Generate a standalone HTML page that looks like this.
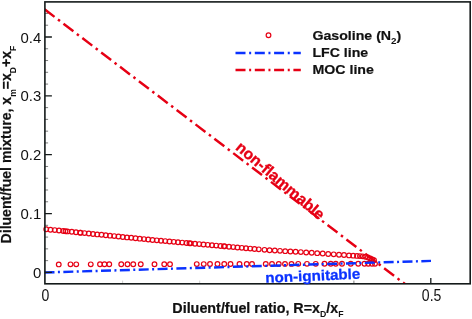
<!DOCTYPE html>
<html><head><meta charset="utf-8"><title>Flammability diagram</title>
<style>html,body{margin:0;padding:0;background:#fff}body{width:472px;height:319px;overflow:hidden}</style></head>
<body>
<svg width="472" height="319" viewBox="0 0 472 319" style="display:block">
<rect width="472" height="319" fill="#fff"/>
<path d="M122.60 283.8v-3.2M199.70 283.8v-3.2M276.80 283.8v-3.2" stroke="#bbb" stroke-width="0.7" fill="none"/>
<path d="M44.9 260.63h3.2M44.9 248.86h3.2M44.9 237.09h3.2M44.9 225.32h3.2M44.9 201.78h3.2M44.9 190.01h3.2M44.9 178.24h3.2M44.9 166.47h3.2M44.9 142.93h3.2M44.9 131.16h3.2M44.9 119.39h3.2M44.9 107.62h3.2M44.9 84.08h3.2M44.9 72.31h3.2M44.9 60.54h3.2M44.9 48.77h3.2M44.9 25.23h3.2M44.9 13.46h3.2M353.90 283.8v-3.2" stroke="#444" stroke-width="0.7" fill="none"/>
<clipPath id="c"><rect x="44.9" y="1.9" width="425.3" height="281.90000000000003"/></clipPath>
<g fill="none" stroke="#e60014" stroke-width="1.2"><circle cx="46.25" cy="229.25" r="2.35"/><circle cx="50.50" cy="229.68" r="2.35"/><circle cx="54.75" cy="230.11" r="2.35"/><circle cx="59.00" cy="230.53" r="2.35"/><circle cx="63.25" cy="230.96" r="2.35"/><circle cx="67.50" cy="231.39" r="2.35"/><circle cx="71.75" cy="231.82" r="2.35"/><circle cx="76.00" cy="232.25" r="2.35"/><circle cx="80.25" cy="232.67" r="2.35"/><circle cx="84.50" cy="233.10" r="2.35"/><circle cx="88.75" cy="233.53" r="2.35"/><circle cx="93.00" cy="233.96" r="2.35"/><circle cx="97.25" cy="234.39" r="2.35"/><circle cx="101.50" cy="234.81" r="2.35"/><circle cx="105.75" cy="235.24" r="2.35"/><circle cx="110.00" cy="235.67" r="2.35"/><circle cx="114.25" cy="236.10" r="2.35"/><circle cx="118.50" cy="236.52" r="2.35"/><circle cx="122.75" cy="236.95" r="2.35"/><circle cx="127.00" cy="237.38" r="2.35"/><circle cx="131.25" cy="237.81" r="2.35"/><circle cx="135.50" cy="238.24" r="2.35"/><circle cx="139.75" cy="238.66" r="2.35"/><circle cx="144.00" cy="239.09" r="2.35"/><circle cx="148.25" cy="239.52" r="2.35"/><circle cx="152.50" cy="239.95" r="2.35"/><circle cx="156.75" cy="240.36" r="2.35"/><circle cx="161.00" cy="240.73" r="2.35"/><circle cx="165.25" cy="241.11" r="2.35"/><circle cx="169.50" cy="241.48" r="2.35"/><circle cx="173.75" cy="241.86" r="2.35"/><circle cx="178.00" cy="242.23" r="2.35"/><circle cx="182.25" cy="242.60" r="2.35"/><circle cx="186.50" cy="242.98" r="2.35"/><circle cx="190.75" cy="243.35" r="2.35"/><circle cx="195.00" cy="243.73" r="2.35"/><circle cx="199.25" cy="244.10" r="2.35"/><circle cx="203.50" cy="244.48" r="2.35"/><circle cx="207.75" cy="244.85" r="2.35"/><circle cx="212.00" cy="245.22" r="2.35"/><circle cx="216.25" cy="245.60" r="2.35"/><circle cx="220.50" cy="245.97" r="2.35"/><circle cx="224.75" cy="246.35" r="2.35"/><circle cx="229.00" cy="246.72" r="2.35"/><circle cx="233.25" cy="247.09" r="2.35"/><circle cx="237.50" cy="247.47" r="2.35"/><circle cx="241.75" cy="247.84" r="2.35"/><circle cx="246.00" cy="248.22" r="2.35"/><circle cx="250.25" cy="248.59" r="2.35"/><circle cx="254.50" cy="248.97" r="2.35"/><circle cx="258.75" cy="249.34" r="2.35"/><circle cx="264.50" cy="249.85" r="2.35"/><circle cx="269.60" cy="250.21" r="2.35"/><circle cx="274.80" cy="250.52" r="2.35"/><circle cx="280.00" cy="250.84" r="2.35"/><circle cx="285.20" cy="251.16" r="2.35"/><circle cx="290.40" cy="251.48" r="2.35"/><circle cx="295.60" cy="251.80" r="2.35"/><circle cx="300.80" cy="252.11" r="2.35"/><circle cx="306.20" cy="252.45" r="2.35"/><circle cx="311.70" cy="252.78" r="2.35"/><circle cx="317.20" cy="253.17" r="2.35"/><circle cx="322.70" cy="253.57" r="2.35"/><circle cx="328.20" cy="253.97" r="2.35"/><circle cx="333.70" cy="254.36" r="2.35"/><circle cx="339.00" cy="254.73" r="2.35"/><circle cx="344.00" cy="255.06" r="2.35"/><circle cx="349.00" cy="255.39" r="2.35"/><circle cx="353.20" cy="255.67" r="2.35"/><circle cx="357.00" cy="255.92" r="2.35"/><circle cx="360.00" cy="256.12" r="2.35"/><circle cx="362.70" cy="256.36" r="2.35"/><circle cx="365.40" cy="256.80" r="2.35"/><circle cx="368.00" cy="257.43" r="2.35"/><circle cx="370.30" cy="258.41" r="2.35"/><circle cx="372.30" cy="259.45" r="2.35"/><circle cx="374.00" cy="260.20" r="2.35"/><circle cx="65.50" cy="231.19" r="2.35"/><circle cx="80.50" cy="232.70" r="2.35"/><circle cx="189.50" cy="243.24" r="2.35"/><circle cx="224.00" cy="246.28" r="2.35"/><circle cx="58.75" cy="264.40" r="2.35"/><circle cx="70.50" cy="264.37" r="2.35"/><circle cx="76.25" cy="264.36" r="2.35"/><circle cx="90.75" cy="264.33" r="2.35"/><circle cx="100.00" cy="264.31" r="2.35"/><circle cx="104.50" cy="264.30" r="2.35"/><circle cx="109.25" cy="264.29" r="2.35"/><circle cx="121.25" cy="264.26" r="2.35"/><circle cx="127.50" cy="264.25" r="2.35"/><circle cx="133.25" cy="264.24" r="2.35"/><circle cx="140.75" cy="264.22" r="2.35"/><circle cx="154.50" cy="264.19" r="2.35"/><circle cx="164.25" cy="264.17" r="2.35"/><circle cx="170.00" cy="264.15" r="2.35"/><circle cx="196.75" cy="264.10" r="2.35"/><circle cx="203.75" cy="264.08" r="2.35"/><circle cx="210.00" cy="264.07" r="2.35"/><circle cx="217.50" cy="264.05" r="2.35"/><circle cx="224.25" cy="264.04" r="2.35"/><circle cx="230.50" cy="264.02" r="2.35"/><circle cx="239.50" cy="264.00" r="2.35"/><circle cx="246.75" cy="263.99" r="2.35"/><circle cx="252.00" cy="263.98" r="2.35"/><circle cx="265.75" cy="263.95" r="2.35"/><circle cx="272.00" cy="263.93" r="2.35"/><circle cx="278.75" cy="263.92" r="2.35"/><circle cx="285.00" cy="263.90" r="2.35"/><circle cx="291.50" cy="263.89" r="2.35"/><circle cx="298.25" cy="263.87" r="2.35"/><circle cx="307.00" cy="263.86" r="2.35"/><circle cx="315.75" cy="263.84" r="2.35"/><circle cx="324.50" cy="263.82" r="2.35"/><circle cx="330.75" cy="263.80" r="2.35"/><circle cx="335.75" cy="263.79" r="2.35"/><circle cx="342.00" cy="263.78" r="2.35"/><circle cx="350.75" cy="263.76" r="2.35"/><circle cx="358.25" cy="263.74" r="2.35"/><circle cx="364.50" cy="263.73" r="2.35"/><circle cx="368.25" cy="263.72" r="2.35"/><circle cx="372.00" cy="263.71" r="2.35"/><circle cx="375.00" cy="263.71" r="2.35"/></g>
<path d="M44.5 272.5L431.0 260.9" stroke="#0a32ff" stroke-width="2.45" stroke-dasharray="10 3.42 2 3.43" fill="none"/>
<path clip-path="url(#c)" d="M44.6 9.31L406 284.84" stroke="#e60014" stroke-width="2.45" stroke-dasharray="12.48 4.37 2.50 4.37" fill="none"/>
<path d="M44.9 272.40h7M44.9 213.55h7M44.9 154.70h7M44.9 95.85h7M44.9 37.00h7M430.80 283.8v-5.8" stroke="#141a1a" stroke-width="1.3" fill="none"/>
<rect x="44.9" y="1.9" width="425.3" height="281.90000000000003" fill="none" stroke="#141a1a" stroke-width="1.6"/>
<circle cx="268.5" cy="35.3" r="2.35" fill="none" stroke="#e60014" stroke-width="1.2"/>
<path d="M235.5 53.0H300.8" stroke="#0a32ff" stroke-width="2.45" stroke-dasharray="10 3.65 2 3.65" fill="none"/>
<path d="M235.5 69.9H300.8" stroke="#e60014" stroke-width="2.45" stroke-dasharray="10 3.65 2 3.65" fill="none"/>
<g font-family="Liberation Sans, Arial, Helvetica, sans-serif" font-weight="bold" font-size="13.6" fill="#111" stroke="#111" stroke-width="0.2">
<text transform="translate(312.4 40.0) scale(1.042 1)">Gasoline (N<tspan font-size="9.4" dy="4.2" stroke="none">2</tspan><tspan dy="-4.2">)</tspan></text>
<text transform="translate(312.4 57.0) scale(1.04 1)">LFC line</text>
<text transform="translate(312.4 74.0) scale(1.045 1)">MOC line</text>
</g>
<g font-family="Liberation Sans, Arial, Helvetica, sans-serif" font-size="14.5" fill="#111">
<text transform="translate(41.2 277.9) scale(1.03 1)" text-anchor="end">0</text>
<text transform="translate(41.2 219.05) scale(1.03 1)" text-anchor="end">0.1</text>
<text transform="translate(41.2 160.2) scale(1.03 1)" text-anchor="end">0.2</text>
<text transform="translate(41.2 101.35) scale(1.03 1)" text-anchor="end">0.3</text>
<text transform="translate(41.2 42.5) scale(1.03 1)" text-anchor="end">0.4</text>
<text transform="translate(45.4 300.5) scale(0.89 1)" text-anchor="middle" font-size="15.8">0</text>
<text transform="translate(431.6 300.5) scale(0.89 1)" text-anchor="middle" font-size="15.8">0.5</text>
</g>
<g font-family="Liberation Sans, Arial, Helvetica, sans-serif" font-weight="bold" font-size="13.8" fill="#111" stroke="#111" stroke-width="0.2">
<text transform="translate(172.3 312.7) scale(1.04 1)">Diluent/fuel ratio, R=x<tspan font-size="8.4" dy="4.3" stroke="none">D</tspan><tspan dy="-4.3">/x</tspan><tspan font-size="8.4" dy="4.3" stroke="none">F</tspan></text>
<text transform="translate(11.3 243.4) rotate(-90) scale(1.018 1)">Diluent/fuel mixture, x<tspan font-size="8.4" dy="4.3" stroke="none">m</tspan><tspan dy="-4.3">=x</tspan><tspan font-size="8.4" dy="4.3" stroke="none">D</tspan><tspan dy="-4.3">+x</tspan><tspan font-size="8.4" dy="4.3" stroke="none">F</tspan></text>
</g>
<g font-family="Liberation Sans, Arial, Helvetica, sans-serif" font-weight="bold" font-size="14.6">
<text transform="translate(234.8 148.7) rotate(40.5)" font-size="15.6" stroke="#e60014" stroke-width="0.35" fill="#e60014">non-flammable</text>
<text transform="translate(265.4 282.8) rotate(-2.5) scale(1.04 1)" font-size="14.6" stroke="#0a32ff" stroke-width="0.25" fill="#0a32ff">non-ignitable</text>
</g>
</svg>
</body></html>
